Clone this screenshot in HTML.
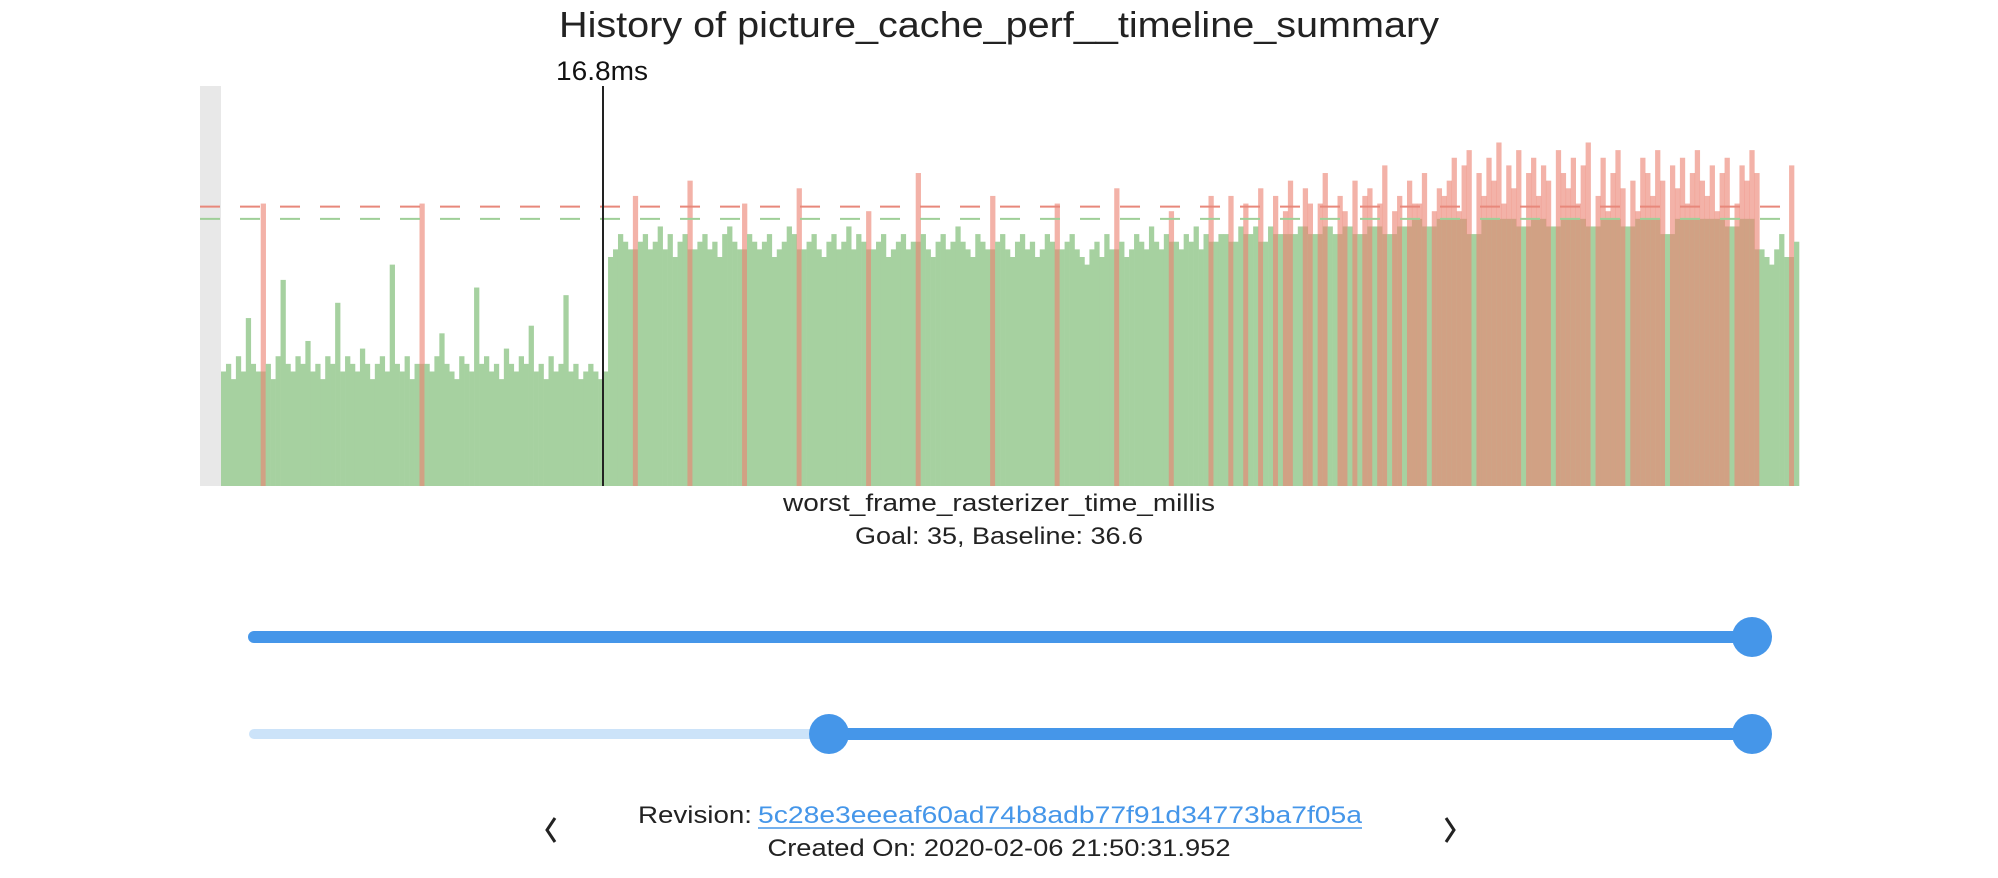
<!DOCTYPE html>
<html><head><meta charset="utf-8"><style>
html,body{margin:0;padding:0;background:#fff;width:1998px;height:878px;overflow:hidden}
svg{display:block;font-family:"Liberation Sans",sans-serif}
</style></head><body>
<svg id="root" width="1998" height="878" viewBox="0 0 1998 878">
<text x="999" y="37" text-anchor="middle" font-size="36" fill="#222" textLength="880" lengthAdjust="spacingAndGlyphs">History of picture_cache_perf__timeline_summary</text>
<rect x="200" y="86" width="21" height="400" fill="#e8e8e8"/>
<g id="bars"></g>
<g id="refs"></g>
<line x1="603" y1="86" x2="603" y2="486" stroke="#222" stroke-width="2"/>
<text x="602" y="80" text-anchor="middle" font-size="27" fill="#111" textLength="92" lengthAdjust="spacingAndGlyphs">16.8ms</text>
<text x="999" y="511" text-anchor="middle" font-size="24" fill="#222" textLength="432" lengthAdjust="spacingAndGlyphs">worst_frame_rasterizer_time_millis</text>
<text x="999" y="544" text-anchor="middle" font-size="24" fill="#222" textLength="288" lengthAdjust="spacingAndGlyphs">Goal: 35, Baseline: 36.6</text>
<g>
<line x1="254" y1="637" x2="1752" y2="637" stroke="#4596e9" stroke-width="12" stroke-linecap="round"/>
<circle cx="1752" cy="637" r="20" fill="#4596e9"/>
</g>
<g>
<line x1="254" y1="734" x2="829" y2="734" stroke="#cce3f9" stroke-width="10" stroke-linecap="round"/>
<line x1="829" y1="734" x2="1752" y2="734" stroke="#4596e9" stroke-width="12"/>
<circle cx="829" cy="734" r="20" fill="#4596e9"/>
<circle cx="1752" cy="734" r="20" fill="#4596e9"/>
</g>
<path d="M555 818 L547 830 L555 842" fill="none" stroke="#222" stroke-width="3"/>
<path d="M1446 818 L1454 830 L1446 842" fill="none" stroke="#222" stroke-width="3"/>
<text x="638" y="823" font-size="24" fill="#222" textLength="114" lengthAdjust="spacingAndGlyphs">Revision:</text>
<text x="758" y="823" font-size="24" fill="#4596e9" textLength="604" lengthAdjust="spacingAndGlyphs">5c28e3eeeaf60ad74b8adb77f91d34773ba7f05a</text>
<line x1="758" y1="828" x2="1362" y2="828" stroke="#4596e9" stroke-width="1.5"/>
<text x="999" y="856" text-anchor="middle" font-size="24" fill="#222" textLength="463" lengthAdjust="spacingAndGlyphs">Created On: 2020-02-06 21:50:31.952</text>
</svg>
<script>
const valuesOld=[15,16,14,17,15,22,16,15,37,16,14,17,27,16,15,17,16,19,15,16,14,17,16,24,15,17,16,15,18,16,14,16,17,15,29,16,15,17,14,16,37,16,15,17,20,16,15,14,17,16,15,26,16,17,15,16,14,18,16,15,17,16,21,15,16,14,17,15,16,25,15,16,14,15,16,15,14,15];
const valuesMid=[30,31,33,32,31,38,32,33,31,32,34,31,33,30,32,33,40,31,32,33,31,32,30,33,34,32,31,37,33,32,31,32,33,30,31,32,34,33,39,31,32,33,31,30,32,33,31,32,34,31,33,32,36,31,32,33,30,31,32,33,31,32,41,33,31,30,32,33,31,32,34,32,31,30,33,32,31,38,32,33,31,30,32,33,31,32,30,31,33,32,37,31,32,33,31,30,29,31,32,30,33,31,39,32,30,31,33,32,31,34,32,31,33,36,32,31,33,32,34,31,33,38,32,33];
const valuesLate=[33,38,32,34,37,33,34,39,32,34,38,33,36,40,33,34,39,37,33,37,41,34,33,38,36,34,40,33,38,39,34,37,42,33,36,38,34,40,37,37,41,34,36,39,38];
const valuesRecent=[40,43,36,42,44,33,41,38,43,40,45,37,42,39,44,34,41,43,38,42,40,34,44,41,39,43,37,42,45,34,38,43,36,41,44,39,34,40,36,43,41,38,44,40,33,42,39,43,37,41,44,40,38,42,36,41,43,34,37,42,40,44,41];
const valuesLast=[31,30,29,31,33,30,42,32];
const goal=35, baseline=36.6, yMax=52.4;
const values=[].concat(valuesOld,valuesMid,valuesLate,valuesRecent,valuesLast);
const NS="http://www.w3.org/2000/svg";
const X0=221,X1=1799,Y0=486,Y1=86;
function yScale(v){return Y0-(v/yMax)*(Y0-Y1);}
function xScale(i){return X0+i*(X1-X0)/values.length;}
const bars=document.getElementById('bars');
values.forEach((v,i)=>{
  const x=xScale(i), w=xScale(i+1)-x;
  if(v>goal){
    const nb=Math.min(values[i-1]||v, values[i+1]||v, goal);
    const g=document.createElementNS(NS,'rect');
    g.setAttribute('x',x);g.setAttribute('width',w+0.3);
    g.setAttribute('y',yScale(nb));g.setAttribute('height',Y0-yScale(nb));
    g.setAttribute('fill','#a6d1a0');
    
    
    bars.appendChild(g);
  }
  const r=document.createElementNS(NS,'rect');
  r.setAttribute('x',x);r.setAttribute('width',w+0.3);
  r.setAttribute('y',yScale(v));r.setAttribute('height',Y0-yScale(v));
  r.setAttribute('fill',v>goal?'rgba(236,130,115,0.62)':'#a6d1a0');
  
  
  bars.appendChild(r);
});
const refs=document.getElementById('refs');
[[baseline,'#e8887b'],[goal,'#9fcf98']].forEach(([v,c])=>{
  const l=document.createElementNS(NS,'line');
  l.setAttribute('x1',200);l.setAttribute('x2',X1);
  l.setAttribute('y1',yScale(v));l.setAttribute('y2',yScale(v));
  l.setAttribute('stroke',c);l.setAttribute('stroke-width',2);l.setAttribute('stroke-dasharray','20 20');
  
  
  refs.appendChild(l);
});
</script>
</body></html>
